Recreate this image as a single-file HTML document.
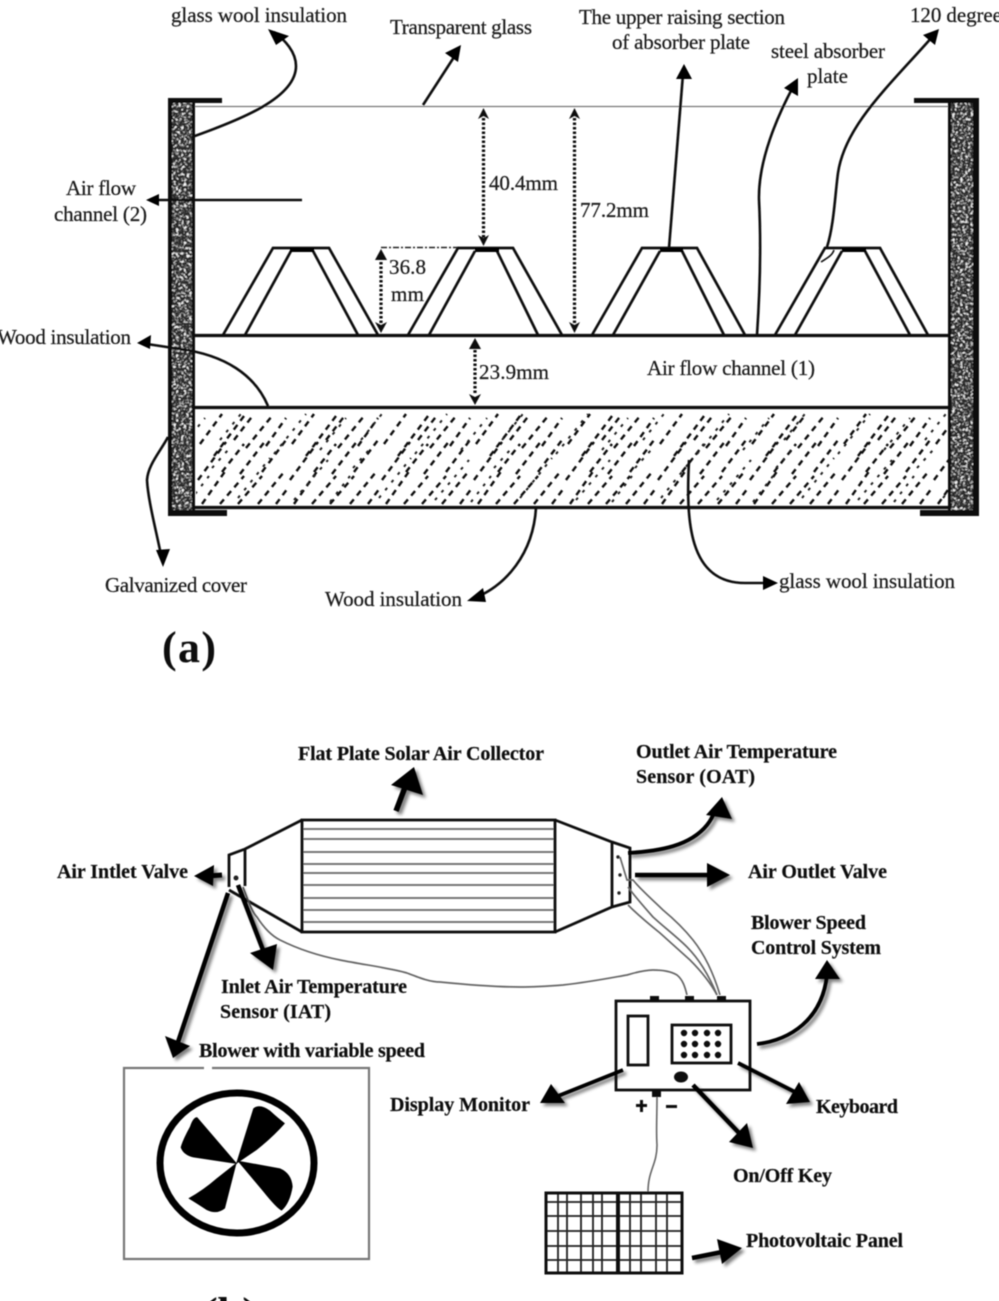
<!DOCTYPE html>
<html><head><meta charset="utf-8"><style>
html,body{margin:0;padding:0;background:#fff;width:999px;height:1301px;overflow:hidden}
svg{display:block}
.a{font-family:"Liberation Serif",serif;font-size:21px;fill:#1c1c1c;stroke:#1c1c1c;stroke-width:.25}
.b{font-family:"Liberation Serif",serif;font-size:20px;font-weight:bold;fill:#111;stroke:#111;stroke-width:.2}
.l{fill:none;stroke:#111;stroke-width:2.7}
.w{fill:none;stroke:#666;stroke-width:1.7}
.d{fill:none;stroke:#111;stroke-width:3.2;stroke-dasharray:2.5 2}
</style></head><body>
<svg width="999" height="1301" viewBox="0 0 999 1301" xmlns="http://www.w3.org/2000/svg">
<defs>
<filter id="s" x="0" y="0" width="100%" height="100%"><feGaussianBlur stdDeviation="0.55"/></filter>
<filter id="sh" x="-30%" y="-30%" width="170%" height="170%"><feGaussianBlur in="SourceAlpha" stdDeviation="1.6"/><feOffset dx="3" dy="3"/><feComponentTransfer><feFuncA type="linear" slope="0.5"/></feComponentTransfer><feMerge><feMergeNode/><feMergeNode in="SourceGraphic"/></feMerge></filter>
<filter id="sp" x="0" y="0" width="100%" height="100%"><feTurbulence type="fractalNoise" baseFrequency="0.38" numOctaves="2" seed="4"/><feColorMatrix values="0 0 0 0 0.95 0 0 0 0 0.95 0 0 0 0 0.95 2.6 2.6 0 0 -2.5"/></filter>
<pattern id="h1" width="92" height="96" patternUnits="userSpaceOnUse" x="196" y="410">
<g fill="none" stroke="#111" stroke-width="2.4" stroke-dasharray="6 5">
<path d="M4 34 L26 4M18 46 L48 6M38 30 L58 4M50 38 L76 6M70 36 L90 8M2 70 L30 32M26 62 L48 34M44 64 L70 30M66 62 L90 30M6 94 L30 60M24 94 L48 66M42 94 L66 66M62 94 L88 62M80 94 L92 78"/>
</g></pattern>
<pattern id="h2" width="141" height="96" patternUnits="userSpaceOnUse" x="210" y="410">
<g fill="none" stroke="#222" stroke-width="2" stroke-dasharray="3 7">
<path d="M10 30 L34 0M64 44 L96 4M110 40 L136 8M28 88 L60 48M84 90 L118 50M2 58 L18 40M120 92 L140 66"/>
</g></pattern>
</defs>
<rect width="999" height="1301" fill="#fff"/>
<g filter="url(#s)">
<!-- walls -->
<rect x="168" y="98" width="27" height="418" fill="#111"/>
<rect x="172" y="103" width="20" height="407" fill="#2c2c2c"/>
<rect x="172" y="103" width="20" height="407" filter="url(#sp)"/>
<rect x="168" y="98" width="54" height="5" fill="#111"/>
<rect x="170" y="510" width="57" height="6" fill="#111"/>
<rect x="948" y="98" width="31" height="418" fill="#111"/>
<rect x="951" y="103" width="22" height="407" fill="#2c2c2c"/>
<rect x="951" y="103" width="22" height="407" filter="url(#sp)"/>
<rect x="914" y="98" width="64" height="5" fill="#111"/>
<rect x="920" y="510" width="58" height="6" fill="#111"/>
<!-- glass -->
<line x1="195" y1="106.5" x2="948" y2="106.5" stroke="#777" stroke-width="1.3"/>
<!-- insulation -->
<rect x="196" y="409" width="752" height="97" fill="url(#h1)"/>
<rect x="196" y="409" width="752" height="97" fill="url(#h2)"/>
<!-- horizontal plates -->
<line x1="195" y1="335.5" x2="948" y2="335.5" stroke="#111" stroke-width="3.2"/>
<line x1="195" y1="407.5" x2="948" y2="407.5" stroke="#111" stroke-width="3.2"/>
<line x1="195" y1="507.5" x2="948" y2="507.5" stroke="#111" stroke-width="3.2"/>
<!-- trapezoids -->
<path class="l" d="M223 335 L273 248 L329 248 L378 335M245 335 L291 251 M313 251 L358 335"/>
<path class="l" d="M408 335 L458 248 L513 248 L562 335M429 335 L475 251 M497 251 L538 335"/>
<path class="l" d="M592 335 L642 248 L697 248 L745 335M613 335 L660 251 M682 251 L724 335"/>
<path class="l" d="M775 335 L825 248 L880 248 L928 335M795 335 L842 251 M865 251 L910 335"/>
<rect x="290" y="248" width="24" height="4" fill="#000"/>
<rect x="475" y="248" width="24" height="4" fill="#000"/>
<rect x="660" y="248" width="23" height="4" fill="#000"/>
<rect x="842" y="248" width="24" height="4" fill="#000"/>
<!-- dimension lines -->
<path class="d" d="M483.5 118 V238"/><path d="M483.5 108 L478 119 L483.5 116 L489 119Z M483.5 246 L478 235 L483.5 238 L489 235Z" fill="#111"/>
<path class="d" d="M574.5 118 V325"/><path d="M574.5 108 L569 119 L574.5 116 L580 119Z M574.5 333 L569 322 L574.5 325 L580 322Z" fill="#111"/>
<path class="d" d="M381 262 V325"/><path d="M381 249 L375 260 L387 260Z M381 333 L375 322 L381 325 L387 322Z" fill="#111"/>
<path class="d" d="M475 350 V395"/><path d="M475 338 L469 349 L481 349Z M475 405 L469 394 L475 397 L481 394Z" fill="#111"/>
<path d="M381 247.5 H458" stroke="#222" stroke-width="1.5" stroke-dasharray="6 2 2 2" fill="none"/>
<!-- arrows a -->
<g fill="none" stroke="#111" stroke-width="2.6">
<path d="M192 137 C240 120 296 98 296 66 C296 52 285 40 274 32"/>
<path d="M423 105 L456 54"/>
<path d="M669 248 L683 74"/>
<path d="M757 335 C760 290 761 240 759 200 C758 160 778 115 793 87"/>
<path d="M827 247 C834 225 835 195 838 173 C845 125 890 85 933 36"/>
<path d="M302 200 H156"/>
<path d="M268 406 C255 375 225 355 180 349 L147 344"/>
<path d="M168 437 C160 452 148 465 147 480 C148 500 156 530 161 555"/>
<path d="M536 508 C533 555 505 585 477 597"/>
<path d="M689 460 C686 520 688 583 745 583 L768 583"/>
<path d="M821 262 C827 258 832 256 834 250" stroke-width="1.6"/>
</g>
<path d="M268 29 L289 36 L276 45Z M461 45 L458 62 L445 53Z M684 64 L692 79 L676 79Z M798 78 L798 96 L784 88Z M939 29 L935 45 L923 35Z M146 200 L159 194 L159 206Z M137 343 L151 335 L150 349Z M163 567 L156 550 L170 549Z M467 601 L483 588 L486 602Z M778 583 L763 576 L763 590Z" fill="#000"/>
<!-- text a -->
<g class="a">
<text x="171" y="22" textLength="176">glass wool insulation</text>
<text x="390" y="34" textLength="142">Transparent glass</text>
<text x="579" y="24" textLength="206">The upper raising section</text>
<text x="612" y="49" textLength="138">of absorber plate</text>
<text x="771" y="58" textLength="114">steel absorber</text>
<text x="807" y="83" textLength="41">plate</text>
<text x="910" y="22" textLength="92">120 degree</text>
<text x="66" y="195" textLength="70">Air flow</text>
<text x="54" y="221" textLength="93">channel (2)</text>
<text x="489" y="190" textLength="69">40.4mm</text>
<text x="580" y="217" textLength="69">77.2mm</text>
<text x="389" y="274" textLength="37">36.8</text>
<text x="391" y="301" textLength="33">mm</text>
<text x="-3" y="344" textLength="134">Wood insulation</text>
<text x="479" y="379" textLength="70">23.9mm</text>
<text x="647" y="375" textLength="168">Air flow channel (1)</text>
<text x="105" y="592" textLength="142">Galvanized cover</text>
<text x="325" y="606" textLength="137">Wood insulation</text>
<text x="779" y="588" textLength="176">glass wool insulation</text>
</g>
<text x="162" y="662" font-family="Liberation Serif, serif" font-weight="bold" font-size="44" fill="#111" textLength="54">(a)</text>

<!-- collector -->
<g stroke="#777" stroke-width="2">
<path d="M302 829H555M302 839H555M302 852H555M302 864H555M302 873H555M302 885H555M302 898H555M302 910H555M302 922H555"/>
</g>
<g fill="none" stroke="#111" stroke-width="2.8">
<rect x="302" y="820" width="253" height="112"/>
<path d="M302 820 L245 849 L229 855 V887 M229 890 L302 932"/>
<path d="M245 849 V886"/>
<path d="M555 820 L612 842 L630 848 V902 L612 907 L555 932"/>
<path d="M612 842 V907"/>
</g>
<g fill="#222"><circle cx="618" cy="857" r="1.7"/><circle cx="620" cy="875" r="1.7"/><circle cx="619" cy="893" r="1.7"/><circle cx="236" cy="878" r="2.5"/></g>
<!-- wires -->
<path class="w" d="M243 887 C248 900 252 912 257 917 C264 928 272 936 280 940 C300 950 320 956 340 960 C365 965 390 968 407 973 C420 978 430 982 440 982 C470 985 500 987 520 987 C535 987 550 986 563 985 C590 982 610 978 627 975 C637 972 645 970 653 970 C665 970 672 972 677 975 C683 980 685 987 687 995"/>
<path class="w" d="M620 857 L627 880 L633 880 C643 892 653 900 663 910 C675 920 685 930 693 940 C705 955 714 975 720 995"/>
<path class="w" d="M628 887 C636 898 645 908 653 917 C665 928 677 937 687 947 C700 960 710 978 717 995"/>
<path class="w" d="M628 905 C638 915 650 925 660 933 C670 942 680 951 690 960 C700 970 710 982 717 995"/>
<path d="M657 1095 C657 1120 656 1130 657 1145 C657 1165 648 1170 648 1192" fill="none" stroke="#666" stroke-width="1.6"/>
<!-- control box -->
<g fill="none" stroke="#111" stroke-width="2.8">
<rect x="616" y="1001" width="134" height="89"/>
<rect x="628" y="1016" width="20" height="49"/>
<rect x="672" y="1025" width="59" height="38"/>
</g>
<g fill="#111">
<rect x="650" y="996" width="9" height="5"/><rect x="685" y="996" width="9" height="5"/><rect x="717" y="996" width="9" height="5"/>
<circle cx="684" cy="1033" r="3.2"/><circle cx="695" cy="1033" r="3.2"/><circle cx="707" cy="1033" r="3.2"/><circle cx="718" cy="1033" r="3.2"/>
<circle cx="684" cy="1044" r="3.2"/><circle cx="695" cy="1044" r="3.2"/><circle cx="707" cy="1044" r="3.2"/><circle cx="718" cy="1044" r="3.2"/>
<circle cx="684" cy="1055" r="3.2"/><circle cx="695" cy="1055" r="3.2"/><circle cx="707" cy="1055" r="3.2"/><circle cx="718" cy="1055" r="3.2"/>
<ellipse cx="681" cy="1077" rx="7" ry="5.5"/>
<rect x="652" y="1090" width="9" height="7"/>
<path d="M636 1104H647V1107H636Z M640 1100H643V1112H640Z M666 1105H677V1108H666Z"/>
</g>
<!-- PV panel -->
<g stroke="#222" stroke-width="1.8">
<path d="M545 1202H683M545 1216H683M545 1231H683M545 1246H683M545 1260H683"/>
<path d="M558 1192V1273M567 1192V1273M581 1192V1273M593 1192V1273M602 1192V1273M630 1192V1273M641 1192V1273M656 1192V1273M667 1192V1273"/>
</g>
<rect x="546" y="1193" width="136" height="80" fill="none" stroke="#111" stroke-width="3"/>
<rect x="616" y="1192" width="4" height="81" fill="#111"/>
<!-- fan -->
<path d="M204 1068 H124 V1259 H369 V1068 H212" fill="none" stroke="#777" stroke-width="2.2"/>
<ellipse cx="237" cy="1163" rx="77" ry="70" fill="none" stroke="#000" stroke-width="7"/>
<g transform="translate(100 1040) scale(.3333)" fill="#000">
<path d="M412 372 L292 232 Q280 230 270 260 Q248 300 242 322 Q250 345 280 352 Z"/>
<path d="M408 372 L460 205 Q480 190 510 212 Q535 235 555 250 Q520 290 470 330 Z"/>
<path d="M412 362 L540 385 Q575 400 578 440 Q570 490 545 512 Q530 505 490 455 Z"/>
<path d="M410 368 L375 505 Q350 525 320 510 Q290 490 265 475 Q310 450 350 415 Z"/>
</g>
<!-- arrows b -->
<g filter="url(#sh)">
<g fill="none" stroke="#000" stroke-width="3.8">
<path d="M396 811 L407 782" stroke-width="5.5"/>
<path d="M222 875 L208 876" stroke-width="5"/>
<path d="M628 853 C660 851 690 846 707 825 C711 820 713 816 714 812"/>
<path d="M635 875 H710" stroke-width="4.5"/>
<path d="M757 1044 C790 1040 822 1020 827 975"/>
<path d="M238 885 L263 950" stroke-width="4.5"/>
<path d="M228 893 L178 1042" stroke-width="4.5"/>
<path d="M623 1070 L558 1096"/>
<path d="M738 1063 L795 1092"/>
<path d="M693 1085 L741 1135" stroke-width="4.5"/>
<path d="M692 1258 L722 1252" stroke-width="4.5"/>
</g>
<path d="M414 767 L423 795 L391 785Z M194 876 L214 865 L213 886Z M722 797 L732 819 L706 815Z M730 875 L707 863 L707 887Z M827 960 L840 979 L815 979Z M273 970 L250 953 L277 944Z M173 1058 L165 1036 L190 1046Z M540 1103 L551 1084 L565 1103Z M810 1102 L786 1104 L799 1082Z M753 1148 L729 1142 L747 1123Z M742 1248 L717 1239 L722 1264Z" fill="#000"/>
</g>
<!-- text b -->
<g class="b">
<text x="298" y="760" textLength="246">Flat Plate Solar Air Collector</text>
<text x="636" y="758" textLength="201">Outlet Air Temperature</text>
<text x="636" y="783" textLength="119">Sensor (OAT)</text>
<text x="57" y="878" textLength="131">Air Intlet Valve</text>
<text x="748" y="878" textLength="139">Air Outlet Valve</text>
<text x="751" y="929" textLength="115">Blower Speed</text>
<text x="751" y="954" textLength="130">Control System</text>
<text x="221" y="993" textLength="186">Inlet Air Temperature</text>
<text x="220" y="1018" textLength="111">Sensor (IAT)</text>
<text x="199" y="1057" textLength="226">Blower with variable speed</text>
<text x="390" y="1111" textLength="140">Display Monitor</text>
<text x="816" y="1113" textLength="82">Keyboard</text>
<text x="733" y="1182" textLength="99">On/Off Key</text>
<text x="746" y="1247" textLength="157">Photovoltaic Panel</text>
</g>
<text x="203" y="1328" font-family="Liberation Serif, serif" font-weight="bold" font-size="44" fill="#111" textLength="54">(b)</text>
</g>
</svg>
</body></html>
